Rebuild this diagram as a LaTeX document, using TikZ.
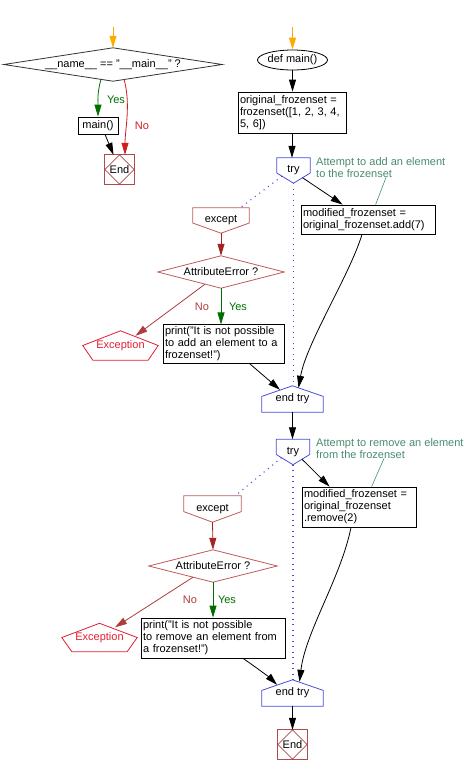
\documentclass[tikz,border=0pt]{standalone}
\usepackage{fontspec}
\setmainfont{Liberation Sans}
\usepackage{tikz}
\usetikzlibrary{arrows.meta,calc,shapes.geometric}
\definecolor{startorange}{RGB}{255,170,0}
\definecolor{yesgreen}{RGB}{0,110,0}
\definecolor{noredtop}{RGB}{205,30,30}
\definecolor{nobrown}{RGB}{175,60,60}
\definecolor{errred}{RGB}{190,90,90}
\definecolor{errdark}{RGB}{165,35,35}
\definecolor{excred}{RGB}{225,30,50}
\definecolor{tryblue}{RGB}{75,75,220}
\definecolor{notegreen}{RGB}{70,140,110}
\definecolor{endbrown}{RGB}{175,75,75}
% outlines drawn round an (invisible) rectangular node
\newcommand{\trypent}[2]{\draw[#2] (#1.north west) -- (#1.north east)
  -- ($(#1.north east)!0.6!(#1.south east)$) -- (#1.south)
  -- ($(#1.north west)!0.6!(#1.south west)$) -- cycle;}
\newcommand{\closepent}[2]{\draw[#2] (#1.south west) -- (#1.south east)
  -- ($(#1.south east)!0.6!(#1.north east)$) -- (#1.north)
  -- ($(#1.south west)!0.6!(#1.north west)$) -- cycle;}
\newcommand{\diamondpath}[2]{\draw[#2] (#1.west) -- (#1.north) -- (#1.east)
  -- (#1.south) -- cycle;}
\newcommand{\excpath}[2]{\draw[#2] (#1.west) -- (#1.north) -- (#1.east)
  -- ($(#1.south east)+(-10,0)$) -- ($(#1.south west)+(10,0)$) -- cycle;}
\newcommand{\stopmark}[1]{%
  \draw[endbrown,line width=0.7pt] (#1.south west) rectangle (#1.north east);
  \draw[endbrown,line width=0.7pt] (#1.west) -- (#1.north) -- (#1.east)
    -- (#1.south) -- cycle;}
\begin{document}
\begin{tikzpicture}[x=1pt,y=-1pt,font=\fontsize{11}{12}\selectfont,
  shp/.style={inner sep=0pt},
  box/.style={draw,line width=0.8pt,inner sep=2pt,align=left},
  flow/.style={line width=0.8pt,-{Triangle[length=12pt,width=7pt]}},
  tryflow/.style={tryblue,line width=1.1pt,dash pattern=on 1pt off 4.5pt},
  note/.style={notegreen,align=left,inner sep=0pt,anchor=north west},
  noteline/.style={notegreen,line width=0.6pt}]
  \useasboundingbox (0,0) rectangle (474,772);
  % --- guard: __name__ == "__main__" (left column) ---
  \coordinate (start1) at (113,27);
  \node[shp,minimum width=218,minimum height=33] (cond1) at (113,64.5)
       {\_\_name\_\_ == "\_\_main\_\_" ?};
  \diamondpath{cond1}{black!80,line width=0.8pt}
  \node[box,inner sep=1pt,minimum width=40,minimum height=17] (callmain)
       at (98,125.5) {main()};
  \node[shp,minimum width=29,minimum height=29] (end1) at (119.5,169.5) {End};
  \stopmark{end1}
  \draw[flow,startorange] (start1) -- (cond1.north);
  \draw[flow,yesgreen] ($(cond1.south)+(-12,-2)$) .. controls +(-4,14)
       and +(0,-14) .. (callmain.north);
  \draw[flow,noredtop] ($(cond1.south)+(11,-2)$) .. controls +(7,25)
       and +(0,-25) .. ($(end1.north)+(5.5,0)$);
  \draw[flow] ($(callmain.south)+(7,0)$) -- ($(end1.north)+(-6,0)$);
  \node[yesgreen] (yes0) at (116,100) {Yes};
  \node[noredtop] (no0) at (142,126) {No};
  % --- def main() ---
  \coordinate (start2) at (292.5,27);
  \node[draw,ellipse,line width=0.8pt,inner sep=0pt,minimum width=63,
        minimum height=20] (defmain) at (292.5,60) {def main()};
  \node[box,text width=104,minimum height=41] (init) at (292,112.5)
       {original\_frozenset =\\frozenset([1, 2, 3, 4,\\5, 6])};
  \draw[flow,startorange] (start2) -- (defmain.north);
  \draw[flow] (defmain.south) -- (defmain.south |- init.north);
  % --- first try block: add ---
  \node[shp,minimum width=33,minimum height=25] (try1) at (293.5,170.5) {try};
  \trypent{try1}{tryblue,line width=0.8pt}
  \node[note] (note1) at (316,157) {Attempt to add an element\\to the frozenset};
  \node[box,text width=130,minimum height=29] (mod1) at (368,219.5)
       {modified\_frozenset =\\original\_frozenset.add(7)};
  \node[shp,minimum width=56,minimum height=25] (exc1) at (221,220.5) {except};
  \trypent{exc1}{errred,line width=0.8pt}
  \node[shp,minimum width=126,minimum height=32] (attr1) at (221,272)
       {AttributeError ?};
  \diamondpath{attr1}{errred,line width=0.8pt}
  \node[shp,minimum width=75,minimum height=29,text=excred] (raise1)
       at (120.5,345.5) {Exception};
  \excpath{raise1}{excred,line width=0.8pt}
  \node[box,text width=117,minimum height=38] (print1) at (223.5,344)
       {print("It is not possible\\to add an element to a\\frozenset!")};
  \node[shp,minimum width=61,minimum height=26] (endtry1) at (292.5,399)
       {end try};
  \closepent{endtry1}{tryblue,line width=0.8pt}
  \draw[flow] (init.south) -- (init.south |- try1.north);
  \draw[noteline] ($(note1.south west)+(70,0)$) -- ($(mod1.north west)+(75,0)$);
  \draw[flow] ($(try1.south)+(9,-5.5)$) -- ($(mod1.north west)+(42,0)$);
  \draw[tryflow] (try1.south) -- (try1.south |- endtry1.north);
  \draw[tryflow] ($(try1.south)+(-11.5,-7)$) -- ($(exc1.north east)+(-9,0)$);
  \draw[flow,errdark] (exc1.south) -- (attr1.north);
  \draw[flow,nobrown] ($(attr1.south)+(-16,-4)$) -- ($(raise1.north)+(15,5)$);
  \draw[flow,yesgreen] (attr1.south) -- (attr1.south |- print1.north);
  \node[nobrown] (no1) at (202,307) {No};
  \node[yesgreen] (yes1) at (238,307) {Yes};
  \draw[flow] ($(print1.south)+(26,0)$) -- ($(endtry1.north)+(-12.5,4)$);
  \draw[flow] ($(mod1.south)+(-6,0)$) .. controls +(-12,40)
       and +(8,-45) .. ($(endtry1.north)+(6,2)$);
  % --- second try block: remove ---
  \node[shp,minimum width=33,minimum height=25] (try2) at (293,452) {try};
  \trypent{try2}{tryblue,line width=0.8pt}
  \node[note] (note2) at (316,438)
       {Attempt to remove an element\\from the frozenset};
  \node[box,text width=110,minimum height=40] (mod2) at (359,507)
       {modified\_frozenset =\\original\_frozenset\\.remove(2)};
  \node[shp,minimum width=57,minimum height=26] (exc2) at (212.5,509) {except};
  \trypent{exc2}{errred,line width=0.8pt}
  \node[shp,minimum width=128,minimum height=32] (attr2) at (213,566)
       {AttributeError ?};
  \diamondpath{attr2}{errred,line width=0.8pt}
  \node[shp,minimum width=75,minimum height=28,text=excred] (raise2)
       at (99.5,637.5) {Exception};
  \excpath{raise2}{excred,line width=0.8pt}
  \node[box,text width=140,minimum height=40] (print2) at (213,638)
       {print("It is not possible\\to remove an element from\\a frozenset!")};
  \node[shp,minimum width=61,minimum height=26] (endtry2) at (292.5,693)
       {end try};
  \closepent{endtry2}{tryblue,line width=0.8pt}
  \node[shp,minimum width=29,minimum height=29] (end2) at (292.5,744.5) {End};
  \stopmark{end2}
  \draw[flow] (endtry1.south) -- (endtry1.south |- try2.north);
  \draw[noteline] ($(note2.south west)+(68,0)$) -- ($(mod2.north west)+(70,0)$);
  \draw[flow] ($(try2.south)+(9,-5.5)$) -- ($(mod2.north west)+(28,0)$);
  \draw[tryflow] (try2.south) -- (try2.south |- endtry2.north);
  \draw[tryflow] ($(try2.south)+(-11.5,-7)$) -- ($(exc2.north east)+(-6,0)$);
  \draw[flow,errdark] (exc2.south) -- (attr2.north);
  \draw[flow,nobrown] ($(attr2.south)+(-20,-5)$) -- ($(raise2.north)+(15.5,4)$);
  \draw[flow,yesgreen] (attr2.south) -- (attr2.south |- print2.north);
  \node[nobrown] (no2) at (190,600) {No};
  \node[yesgreen] (yes2) at (227,600) {Yes};
  \draw[flow] ($(print2.south)+(30,0)$) .. controls +(12,8)
       and +(-6,-6) .. ($(endtry2.north)+(-15.5,5)$);
  \draw[flow] ($(mod2.south)+(-8,0)$) .. controls +(-10,50)
       and +(6,-50) .. ($(endtry2.north)+(7,2)$);
  \draw[flow] (endtry2.south) -- (end2.north);
\end{tikzpicture}
\end{document}
